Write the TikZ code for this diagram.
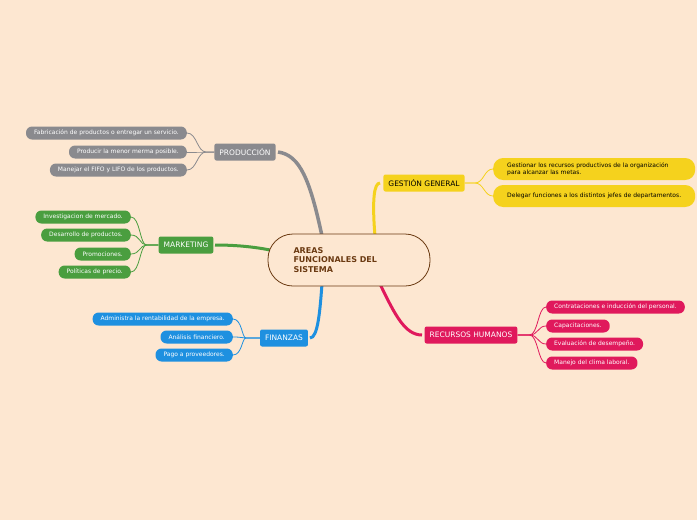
\documentclass[tikz,border=0pt]{standalone}
\usepackage{fontspec}
\setmainfont{DejaVu Sans}
\begin{document}
\begin{tikzpicture}[x=1pt,y=-1pt,
  leaf/.style={rounded corners=6pt,minimum height=13pt,inner xsep=8pt,inner ysep=1pt,font=\fontsize{6}{7}\selectfont,text=white},
  branch/.style={rounded corners=2pt,minimum height=17pt,inner xsep=5pt,font=\fontsize{7.5}{9}\selectfont,text=white},
  thin/.style={line width=0.8pt}]
\definecolor{bg}{HTML}{FDE7D1}
\definecolor{cgray}{HTML}{8A8A8E}
\definecolor{cgreen}{HTML}{4A9E3F}
\definecolor{cblue}{HTML}{1E90E0}
\definecolor{cyel}{HTML}{F5D21D}
\definecolor{cpink}{HTML}{E0195C}
\definecolor{brn}{HTML}{6B3A12}
\fill[bg] (0,0) rectangle (697,520);
\useasboundingbox (0,0) rectangle (697,520);
\coordinate (xp) at (197,0);
\coordinate (xm) at (140,0);
\coordinate (xf) at (242,0);
\coordinate (xg) at (484,0);
\coordinate (xr) at (538,0);
% main connectors
\draw[cgray,line width=3.5pt] (322,236) .. controls (310,180) and (300,155) .. (278,152);
\draw[cgreen,line width=3pt] (270,250) .. controls (250,246) and (230,245) .. (215,245);
\draw[cblue,line width=3pt] (322,284) .. controls (320,310) and (318,338) .. (310,338);
\draw[cyel,line width=3pt] (375,236) .. controls (372,200) and (374,183) .. (380,183);
\draw[cpink,line width=3pt] (380,284) .. controls (395,315) and (405,335) .. (422,335);
\node[draw=brn,fill=bg,rounded corners=25pt,line width=0.8pt,minimum width=162pt,minimum height=52pt] (c) at (349,260) {};
\node[anchor=west,align=left,text=brn,font=\fontsize{8}{9.5}\selectfont\bfseries] (ct) at (290,260) {AREAS\\FUNCIONALES DEL\\SISTEMA};
% branches
\node[branch,fill=cgray] (p) at (245,152) {PRODUCCIÓN};
\node[branch,fill=cgreen] (m) at (186,245) {MARKETING};
\node[branch,fill=cblue] (f) at (284,338) {FINANZAS};
\node[branch,fill=cyel,text=black] (g) at (424,183) {GESTIÓN GENERAL};
\node[branch,fill=cpink] (r) at (471,335) {RECURSOS HUMANOS};
% produccion leaves
\node[leaf,fill=cgray,anchor=east] (p1) at (187,133) {Fabricación de productos o entregar un servicio.};
\node[leaf,fill=cgray,anchor=east] (p2) at (187,152) {Producir la menor merma posible.};
\node[leaf,fill=cgray,anchor=east] (p3) at (187,170) {Manejar el FIFO y LIFO de los productos.};
\foreach \n in {p1,p2,p3} \draw[cgray,thin] (p.west) -- ++(-8,0) .. controls (197,152) and (\n.east -| xp) .. (\n.east);
% marketing
\node[leaf,fill=cgreen,anchor=east] (m1) at (131,217) {Investigacion de mercado.};
\node[leaf,fill=cgreen,anchor=east] (m2) at (131,235) {Desarrollo de productos.};
\node[leaf,fill=cgreen,anchor=east] (m3) at (131,254) {Promociones.};
\node[leaf,fill=cgreen,anchor=east] (m4) at (131,272) {Políticas de precio.};
\foreach \n in {m1,m2,m3,m4} \draw[cgreen,thin] (m.west) -- ++(-12,0) .. controls (140,245) and (\n.east -| xm) .. (\n.east);
% finanzas
\node[leaf,fill=cblue,anchor=east] (f1) at (233,319) {Administra la rentabilidad de la empresa.};
\node[leaf,fill=cblue,anchor=east] (f2) at (233,337) {Análisis financiero.};
\node[leaf,fill=cblue,anchor=east] (f3) at (233,355) {Pago a proveedores.};
\foreach \n in {f1,f2,f3} \draw[cblue,thin] (f.west) -- ++(-14,0) .. controls (242,338) and (\n.east -| xf) .. (\n.east);
% gestion
\node[leaf,fill=cyel,text=black,anchor=west,minimum width=202pt,minimum height=22pt,rounded corners=10pt,align=left,inner xsep=14pt,text width=174pt] (g1) at (493,169) {Gestionar los recursos productivos de la organización para alcanzar las metas.};
\node[leaf,fill=cyel,text=black,anchor=west,minimum width=202pt,minimum height=22pt,rounded corners=10pt,align=left,inner xsep=14pt,text width=174pt] (g2) at (493,196) {Delegar funciones a los distintos jefes de departamentos.};
\foreach \n in {g1,g2} \draw[cyel,thin] (g.east) -- ++(10,0) .. controls (484,183) and (\n.west -| xg) .. (\n.west);
% rrhh
\node[leaf,fill=cpink,anchor=west] (r1) at (546,307) {Contrataciones e inducción del personal.};
\node[leaf,fill=cpink,anchor=west] (r2) at (546,326) {Capacitaciones.};
\node[leaf,fill=cpink,anchor=west] (r3) at (546,344) {Evaluación de desempeño.};
\node[leaf,fill=cpink,anchor=west] (r4) at (546,363) {Manejo del clima laboral.};
\foreach \n in {r1,r2,r3,r4} \draw[cpink,thin] (r.east) -- ++(12,0) .. controls (538,335) and (\n.west -| xr) .. (\n.west);
\end{tikzpicture}
\end{document}
